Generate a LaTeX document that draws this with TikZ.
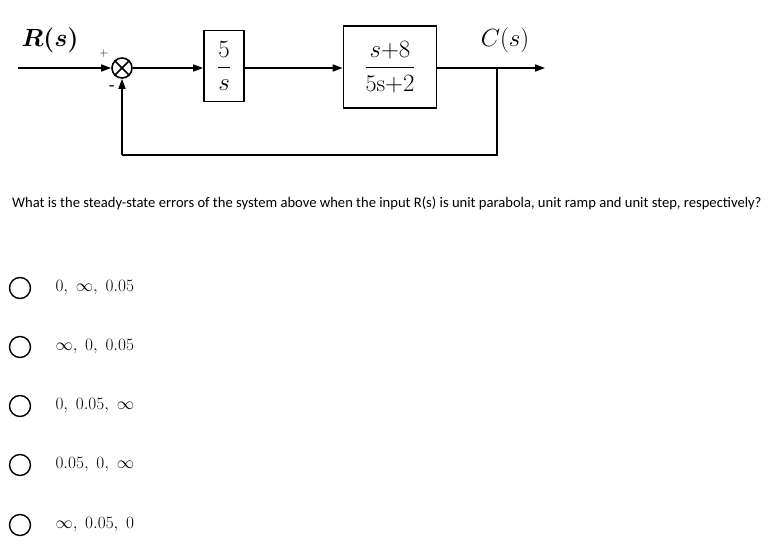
\documentclass[tikz,border=0pt]{standalone}
\usepackage{fontspec}
\usepackage{amsmath}
\newfontfamily\carl{Carlito}
\usetikzlibrary{arrows.meta}
\begin{document}
\begin{tikzpicture}[x=1pt,y=-1pt,
  sig/.style={line width=1.6pt,-{Triangle[length=10pt,width=7pt]}},
  ln/.style={line width=1.6pt},
  blk/.style={draw,line width=1.8pt,inner sep=0pt},
  opt/.style={circle,draw,line width=1.4pt,minimum size=21pt,inner sep=0pt},
  ans/.style={anchor=west,font=\fontsize{16}{18}\selectfont}]
\useasboundingbox (0,0) rectangle (782,555);
\node[font=\fontsize{24}{26}\selectfont] (R) at (50,40) {$\boldsymbol{R(s)}$};
\coordinate (in) at (18,68);
\node[circle,draw,line width=1.6pt,minimum size=20pt,inner sep=0pt] (sum) at (122,68) {};
\draw[line width=1.6pt] (sum.north west)--(sum.south east) (sum.north east)--(sum.south west);
\node[font=\large] (plus) at (104,54) {+};
\node[font=\Large\bfseries] (minus) at (112,88) {-};
\node[blk,minimum width=40pt,minimum height=71pt] (g1) at (224,66) {\fontsize{24}{26}\selectfont$\displaystyle\frac{5}{s}$};
\node[blk,minimum width=93pt,minimum height=82pt] (g2) at (390,67) {\fontsize{24}{26}\selectfont$\displaystyle\frac{s{+}8}{\mathrm{5s}{+}2}$};
\node[font=\fontsize{24}{26}\selectfont] (C) at (505,40) {$C(s)$};
\coordinate (out) at (545,68);
\coordinate (br) at (497,68);
\coordinate (b1) at (497,155);
\coordinate (b2) at (122,155);
\draw[sig] (in)--(sum.west);
\draw[sig] (sum.east)--(g1.west|-sum);
\draw[sig] (g1.east|-sum)--(g2.west|-sum);
\draw[sig] (g2.east|-sum)--(out);
\draw[ln] (br)--(b1)--(b2);
\draw[sig] (b2)--(sum.south);
\node[anchor=west,inner sep=0pt,font=\carl\fontsize{14.6pt}{16pt}\selectfont] (q) at (12,203) {What is the steady-state errors of the system above when the input R(s) is unit parabola, unit ramp and unit step, respectively?};
\node[opt] (o1) at (20,288) {};
\node[opt] (o2) at (20,347) {};
\node[opt] (o3) at (20,406) {};
\node[opt] (o4) at (20,465) {};
\node[opt] (o5) at (20,525) {};
\node[ans] (a1) at (52,288) {$0,\ \infty,\ 0.05$};
\node[ans] (a2) at (52,347) {$\infty,\ 0,\ 0.05$};
\node[ans] (a3) at (52,406) {$0,\ 0.05,\ \infty$};
\node[ans] (a4) at (52,465) {$0.05,\ 0,\ \infty$};
\node[ans] (a5) at (52,525) {$\infty,\ 0.05,\ 0$};
\end{tikzpicture}
\end{document}
